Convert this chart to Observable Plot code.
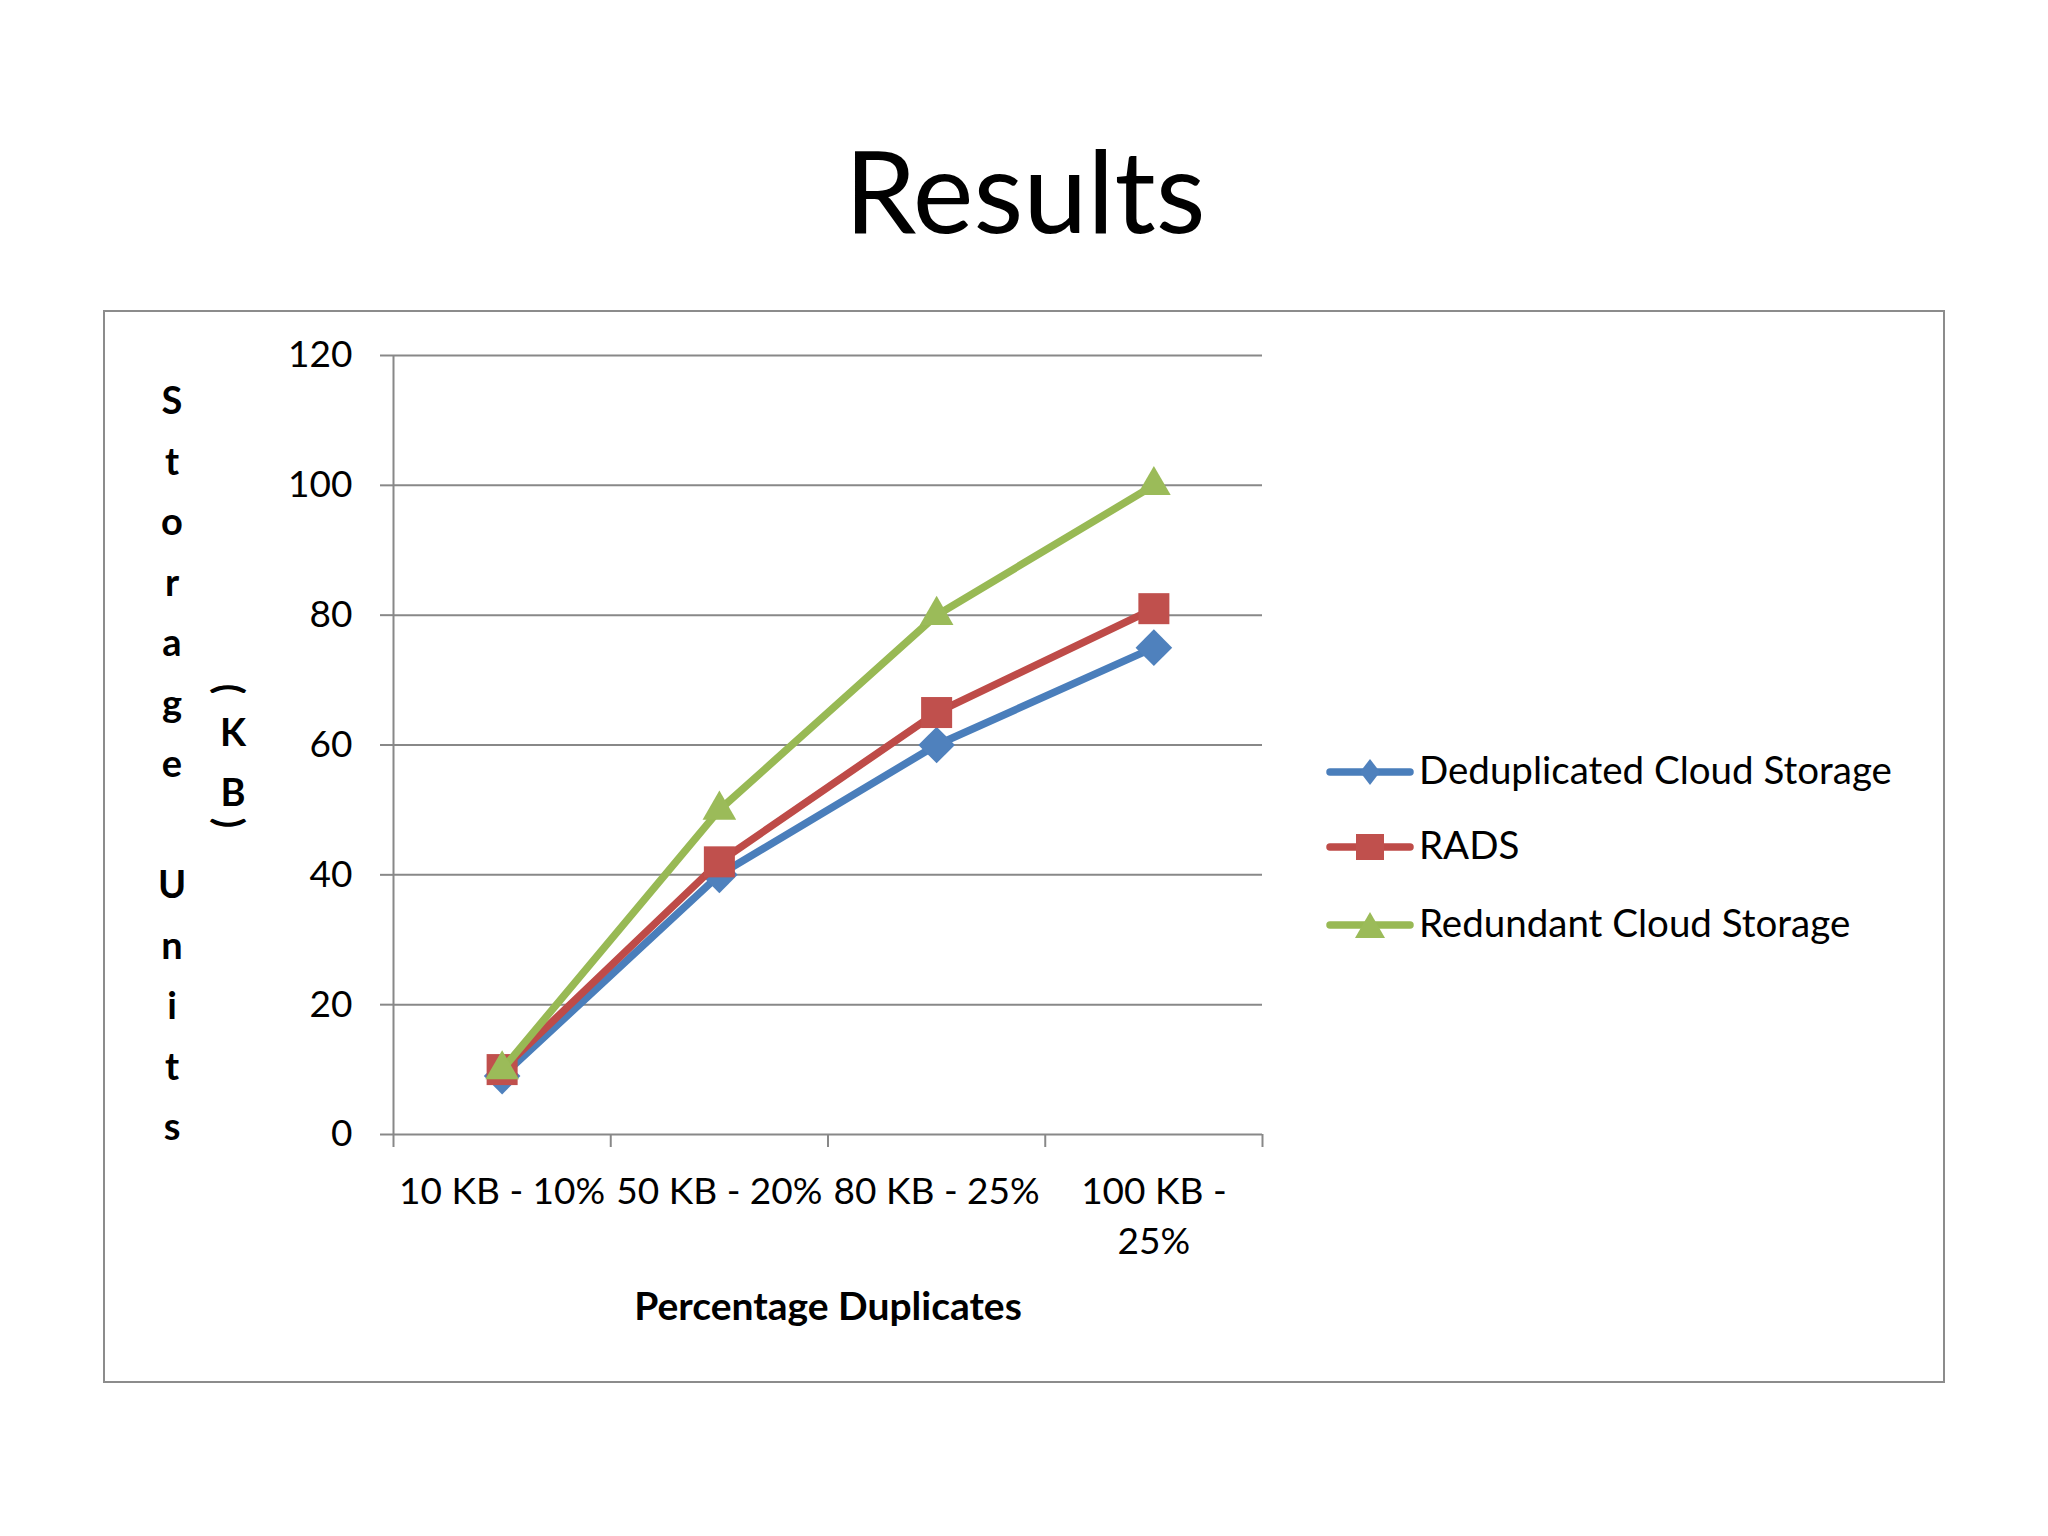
<!DOCTYPE html>
<html><head><meta charset="utf-8">
<script src="https://cdn.jsdelivr.net/npm/d3@7"></script>
<script src="https://cdn.jsdelivr.net/npm/@observablehq/plot@0.6"></script>
<style>
html,body{margin:0;padding:0;background:#fff;}
#page{position:relative;width:2048px;height:1536px;overflow:hidden;font-family:Lato, "Open Sans", sans-serif;color:#000;}
.abs{position:absolute;}
#page svg{position:absolute;left:0;top:0;}
</style></head><body><div id="page"></div>
<script>
// ---- data ----
const titleText = "Results";
const categories = ["10 KB - 10%", "50 KB - 20%", "80 KB - 25%", "100 KB - 25%"];
const seriesNames = ["Deduplicated Cloud Storage", "RADS", "Redundant Cloud Storage"];
const dedupValues = [9, 40, 60, 75];
const radsValues = [10, 42, 65, 81];
const redundantValues = [10, 50, 80, 100];
const yTicks = [0, 20, 40, 60, 80, 100, 120];
const xTitle = "Percentage Duplicates";
const yTitle = "Storage Units";
const yUnit = ["(", "K", "B", ")"];

// ---- styles ----
const gridColor = "#888888";
const lineColors = ["#4A7EBB", "#BE4B48", "#98B954"];
const markerColors = ["#4F81BD", "#C0504D", "#9BBB59"];
const symbols = ["diamond2", "square", "triangle"];
const radii = [16.5, 17.5, 12.5];

const page = document.getElementById("page");

// frame
const frame = document.createElement("div");
frame.className = "abs";
Object.assign(frame.style, {left: "103px", top: "310px", width: "1842px", height: "1073px", border: "2px solid #8c8c8c", boxSizing: "border-box"});
page.appendChild(frame);

// chart
const seriesValues = [dedupValues, radsValues, redundantValues];
const seriesRows = seriesValues.map((vals, s) =>
  categories.map((c, i) => ({series: seriesNames[s], category: c, pos: i + 0.5, value: vals[i]}))
);

const seriesMarks = seriesRows.flatMap((rows, s) => [
  Plot.line(rows, {x: "pos", y: "value", stroke: lineColors[s], strokeWidth: 7.5, strokeLinejoin: "round", strokeLinecap: "round"}),
  Plot.dot(rows, {x: "pos", y: "value", symbol: () => symbols[s], r: radii[s], fill: markerColors[s], stroke: "none"})
]);

const chart = Plot.plot({
  width: 2048,
  height: 1536,
  marginLeft: 393,
  marginRight: 786,
  marginTop: 355,
  marginBottom: 402,
  x: {domain: [0, categories.length]},
  y: {domain: [0, 120]},
  symbol: {type: "identity"},
  style: {fontFamily: "Lato, 'Open Sans', sans-serif", fontSize: "37px", background: "transparent", color: "#000", overflow: "visible"},
  marks: [
    Plot.gridY(yTicks, {stroke: gridColor, strokeOpacity: 1, strokeWidth: 2}),
    Plot.axisY({ticks: yTicks, tickSize: 13, tickPadding: 28, stroke: gridColor, strokeWidth: 2, fontSize: 37, label: null, fill: "#000"}),
    Plot.axisX({ticks: d3.range(categories.length + 1), tickSize: 13, tickFormat: () => "", stroke: gridColor, strokeWidth: 2, label: null}),
    Plot.ruleX([0], {stroke: gridColor, strokeWidth: 2}),
    Plot.text(categories, {x: (d, i) => i + 0.5, text: d => d, frameAnchor: "bottom", lineAnchor: "top", dy: 33, lineWidth: 6.0, lineHeight: 1.37, fontSize: 37, fill: "#000"}),
    Plot.text([xTitle], {text: d => d, frameAnchor: "bottom", lineAnchor: "top", dy: 158, fontSize: 39, fontWeight: "bold", fill: "#000"}),
    ...seriesMarks
  ]
});
page.appendChild(chart);

// title
const title = document.createElement("div");
title.className = "abs";
title.textContent = titleText;
Object.assign(title.style, {left: "0px", width: "2050px", textAlign: "center", top: (233 - 0.887 * 115) + "px", fontSize: "115px", lineHeight: "115px"});
page.appendChild(title);

// y title stacked letters
Array.from(yTitle).forEach((ch, i) => {
  const d = document.createElement("div");
  d.className = "abs";
  d.textContent = ch === " " ? "\u00a0" : ch;
  Object.assign(d.style, {left: "142px", width: "60px", textAlign: "center", top: (369 + i * 60.5) + "px", fontSize: "38px", fontWeight: "bold", lineHeight: "60.5px"});
  page.appendChild(d);
});
// unit column
const unitCenters = [689, 732, 792, 823];
yUnit.forEach((ch, i) => {
  const d = document.createElement("div");
  d.className = "abs";
  d.textContent = ch;
  const isParen = ch === "(" || ch === ")";
  const cx = isParen ? 231 : 233;
  const top = isParen ? unitCenters[i] - 30 : (i === 1 ? 746 : 806) - 44.7;
  Object.assign(d.style, {left: (cx - 30) + "px", width: "60px", height: "60px", textAlign: "center", top: top + "px", fontSize: "38px", fontWeight: "bold", lineHeight: "60px", transform: isParen ? "rotate(90deg)" : "none", transformOrigin: "50% 50%"});
  page.appendChild(d);
});

// legend
const legendCenters = [772, 847, 925];
function markerSvg(i) {
  const c = markerColors[i];
  if (i === 0) return `<polygon points="44,7 54,20 44,33 34,20" fill="${c}"/>`;
  if (i === 1) return `<rect x="30" y="7" width="28" height="26" fill="${c}"/>`;
  return `<polygon points="44,7 59,33 29,33" fill="${c}"/>`;
}
seriesNames.forEach((name, i) => {
  const row = document.createElement("div");
  row.className = "abs";
  Object.assign(row.style, {left: "1326px", top: (legendCenters[i] - 20) + "px", height: "40px", display: "flex", alignItems: "center", whiteSpace: "nowrap"});
  row.innerHTML = `<svg width="88" height="40" style="display:block;position:static"><line x1="4" x2="84" y1="20" y2="20" stroke="${lineColors[i]}" stroke-width="7.5" stroke-linecap="round"/>${markerSvg(i)}</svg>`;
  const t = document.createElement("span");
  t.textContent = name;
  Object.assign(t.style, {fontSize: "38.5px", lineHeight: "40px", marginLeft: "5px", marginTop: "-6px"});
  row.appendChild(t);
  page.appendChild(row);
});
</script></body></html>
